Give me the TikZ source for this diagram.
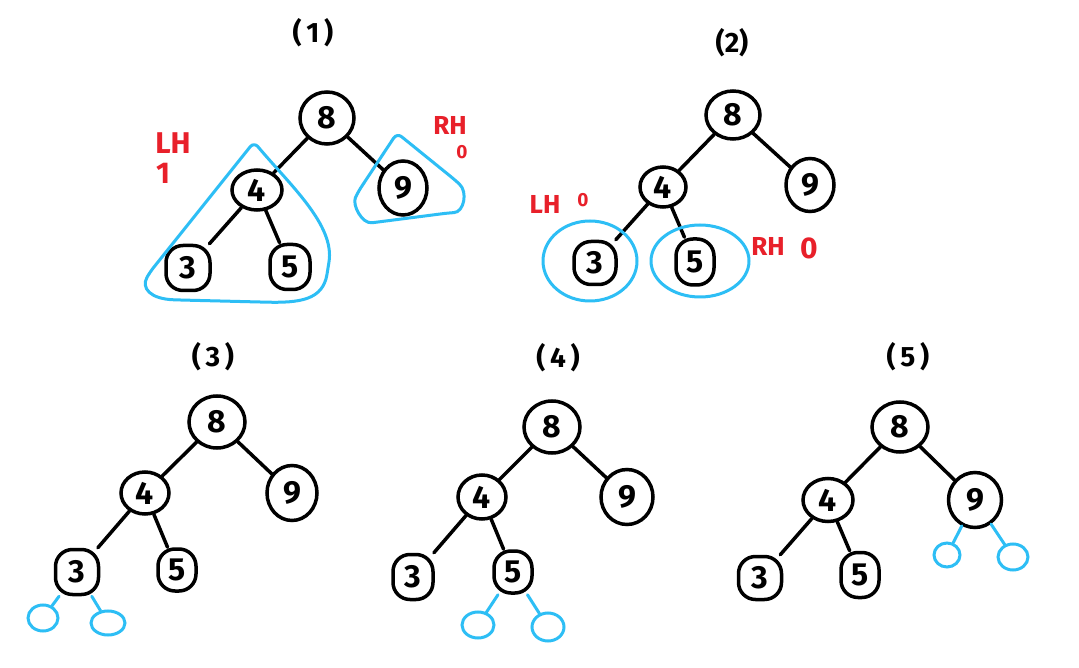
\documentclass[tikz,border=0pt]{standalone}
\usepackage{fontspec}
\setmainfont{Fira Sans}
\usetikzlibrary{shapes.geometric}
\definecolor{hullblue}{RGB}{45,190,245}
\definecolor{markred}{RGB}{232,32,42}
\tikzset{
  tn/.style={draw=black, line width=3.5pt, ellipse, inner sep=0pt, font=\fontsize{32}{32}\selectfont\bfseries},
  sq/.style={draw=black, line width=3.5pt, rectangle, rounded corners=17pt, inner sep=0pt, font=\fontsize{32}{32}\selectfont\bfseries},
  leaf/.style={draw=hullblue, line width=3pt, ellipse, inner sep=0pt},
  edge/.style={draw=black, line width=3.5pt, line cap=round},
  bedge/.style={draw=hullblue, line width=3pt, line cap=round},
  hull/.style={draw=hullblue, line width=3pt, line join=round, rounded corners=6pt},
  ttl/.style={font=\fontsize{28}{28}\selectfont\bfseries},
  redlbl/.style={text=markred, font=\fontsize{30}{30}\selectfont\bfseries, inner sep=0pt},
  redmid/.style={text=markred, font=\fontsize{26}{26}\selectfont\bfseries, inner sep=0pt},
  redsmall/.style={text=markred, font=\fontsize{19}{19}\selectfont\bfseries, inner sep=0pt}
}
\begin{document}
\begin{tikzpicture}[x=1pt, y=-1pt]
\useasboundingbox (0,0) rectangle (1079,668);
\fill[white] (0,0) rectangle (1079,668);

% ---------- titles ----------
\node[ttl] (t1) at (313,33) {(\,1\,)};
\node[ttl] (t2) at (732,43) {(2)};
\node[ttl] (t3) at (213,357) {(\,3\,)};
\node[ttl] (t4) at (558,358) {(\,4\,)};
\node[ttl] (t5) at (908,357) {(\,5\,)};

% ---------- tree (1) ----------
\node[tn, minimum width=54pt, minimum height=52pt] (a8) at (327,118) {8};
\node[tn, minimum width=50pt, minimum height=40pt] (a4) at (257,190) {4};
\node[tn, minimum width=48pt, minimum height=54pt] (a9) at (403,188) {9};
\node[sq, minimum width=44pt, minimum height=45pt] (a3) at (188,268) {3};
\node[sq, minimum width=40pt, minimum height=45pt] (a5) at (290,267) {5};
\draw[edge] (a8) -- (a4);
\draw[edge] (a8) -- (a9);
\draw[edge] (a4) -- (a3);
\draw[edge] (a4) -- (a5);
\draw[hull] (254,142) .. controls (290,185) and (335,225) .. (328,268)
  .. controls (323,300) and (300,303) .. (260,302) -- (180,300)
  .. controls (150,299) and (141,288) .. (150,272) -- cycle;
\draw[hull] (397,133) -- (455,180) .. controls (468,192) and (464,212) .. (448,213)
  -- (378,222) .. controls (362,224) and (352,205) .. (358,192) -- cycle;
\node[redlbl] (lh1) at (173,143) {LH};
\node[redlbl] (lh1v) at (163,173) {1};
\node[redmid] (rh1) at (450,125) {RH};
\node[redsmall] (rh1v) at (462,152) {0};

% ---------- tree (2) ----------
\node[tn, minimum width=54pt, minimum height=48pt] (b8) at (733,115) {8};
\node[tn, minimum width=46pt, minimum height=40pt] (b4) at (663,187) {4};
\node[tn, minimum width=48pt, minimum height=53pt] (b9) at (810,185) {9};
\node[sq, minimum width=42pt, minimum height=43pt] (b3) at (595,263) {3};
\node[sq, minimum width=38pt, minimum height=46pt] (b5) at (695,262) {5};
\draw[edge] (b8) -- (b4);
\draw[edge] (b8) -- (b9);
\draw[edge] (b4) -- (b3);
\draw[edge] (b4) -- (b5);
\draw[hull] (590,261) ellipse [x radius=47pt, y radius=40pt];
\draw[hull] (700,261) ellipse [x radius=49pt, y radius=36pt];
\node[redmid] (lh2) at (545,204) {LH};
\node[redsmall] (lh2v) at (583,200) {0};
\node[redmid] (rh2) at (768,246) {RH};
\node[redlbl] (rh2v) at (809,248) {0};

% ---------- tree (3) ----------
\node[tn, minimum width=56pt, minimum height=52pt] (c8) at (217,422) {8};
\node[tn, minimum width=48pt, minimum height=42pt] (c4) at (145,493) {4};
\node[tn, minimum width=50pt, minimum height=55pt] (c9) at (292,493) {9};
\node[sq, minimum width=43pt, minimum height=45pt] (c3) at (77,572) {3};
\node[sq, minimum width=38pt, minimum height=42pt] (c5) at (177,570) {5};
\node[leaf, minimum width=30pt, minimum height=26pt] (cl) at (43,618) {};
\node[leaf, minimum width=34pt, minimum height=24pt] (cr) at (108,623) {};
\draw[edge] (c8) -- (c4);
\draw[edge] (c8) -- (c9);
\draw[edge] (c4) -- (c3);
\draw[edge] (c4) -- (c5);
\draw[bedge] (c3) -- (cl);
\draw[bedge] (c3) -- (cr);

% ---------- tree (4) ----------
\node[tn, minimum width=56pt, minimum height=52pt] (d8) at (552,427) {8};
\node[tn, minimum width=48pt, minimum height=44pt] (d4) at (482,497) {4};
\node[tn, minimum width=52pt, minimum height=55pt] (d9) at (627,497) {9};
\node[sq, minimum width=40pt, minimum height=45pt] (d3) at (413,577) {3};
\node[sq, minimum width=38pt, minimum height=42pt] (d5) at (513,572) {5};
\node[leaf, minimum width=32pt, minimum height=26pt] (dl) at (478,625) {};
\node[leaf, minimum width=32pt, minimum height=28pt] (dr) at (548,627) {};
\draw[edge] (d8) -- (d4);
\draw[edge] (d8) -- (d9);
\draw[edge] (d4) -- (d3);
\draw[edge] (d4) -- (d5);
\draw[bedge] (d5) -- (dl);
\draw[bedge] (d5) -- (dr);

% ---------- tree (5) ----------
\node[tn, minimum width=56pt, minimum height=50pt] (e8) at (900,427) {8};
\node[tn, minimum width=50pt, minimum height=43pt] (e4) at (828,500) {4};
\node[tn, minimum width=53pt, minimum height=55pt] (e9) at (975,500) {9};
\node[sq, minimum width=43pt, minimum height=43pt] (e3) at (760,578) {3};
\node[sq, minimum width=38pt, minimum height=45pt] (e5) at (860,575) {5};
\node[leaf, minimum width=26pt, minimum height=24pt] (el) at (947,555) {};
\node[leaf, minimum width=30pt, minimum height=26pt] (er) at (1013,557) {};
\draw[edge] (e8) -- (e4);
\draw[edge] (e8) -- (e9);
\draw[edge] (e4) -- (e3);
\draw[edge] (e4) -- (e5);
\draw[bedge] (e9) -- (el);
\draw[bedge] (e9) -- (er);
\end{tikzpicture}
\end{document}
